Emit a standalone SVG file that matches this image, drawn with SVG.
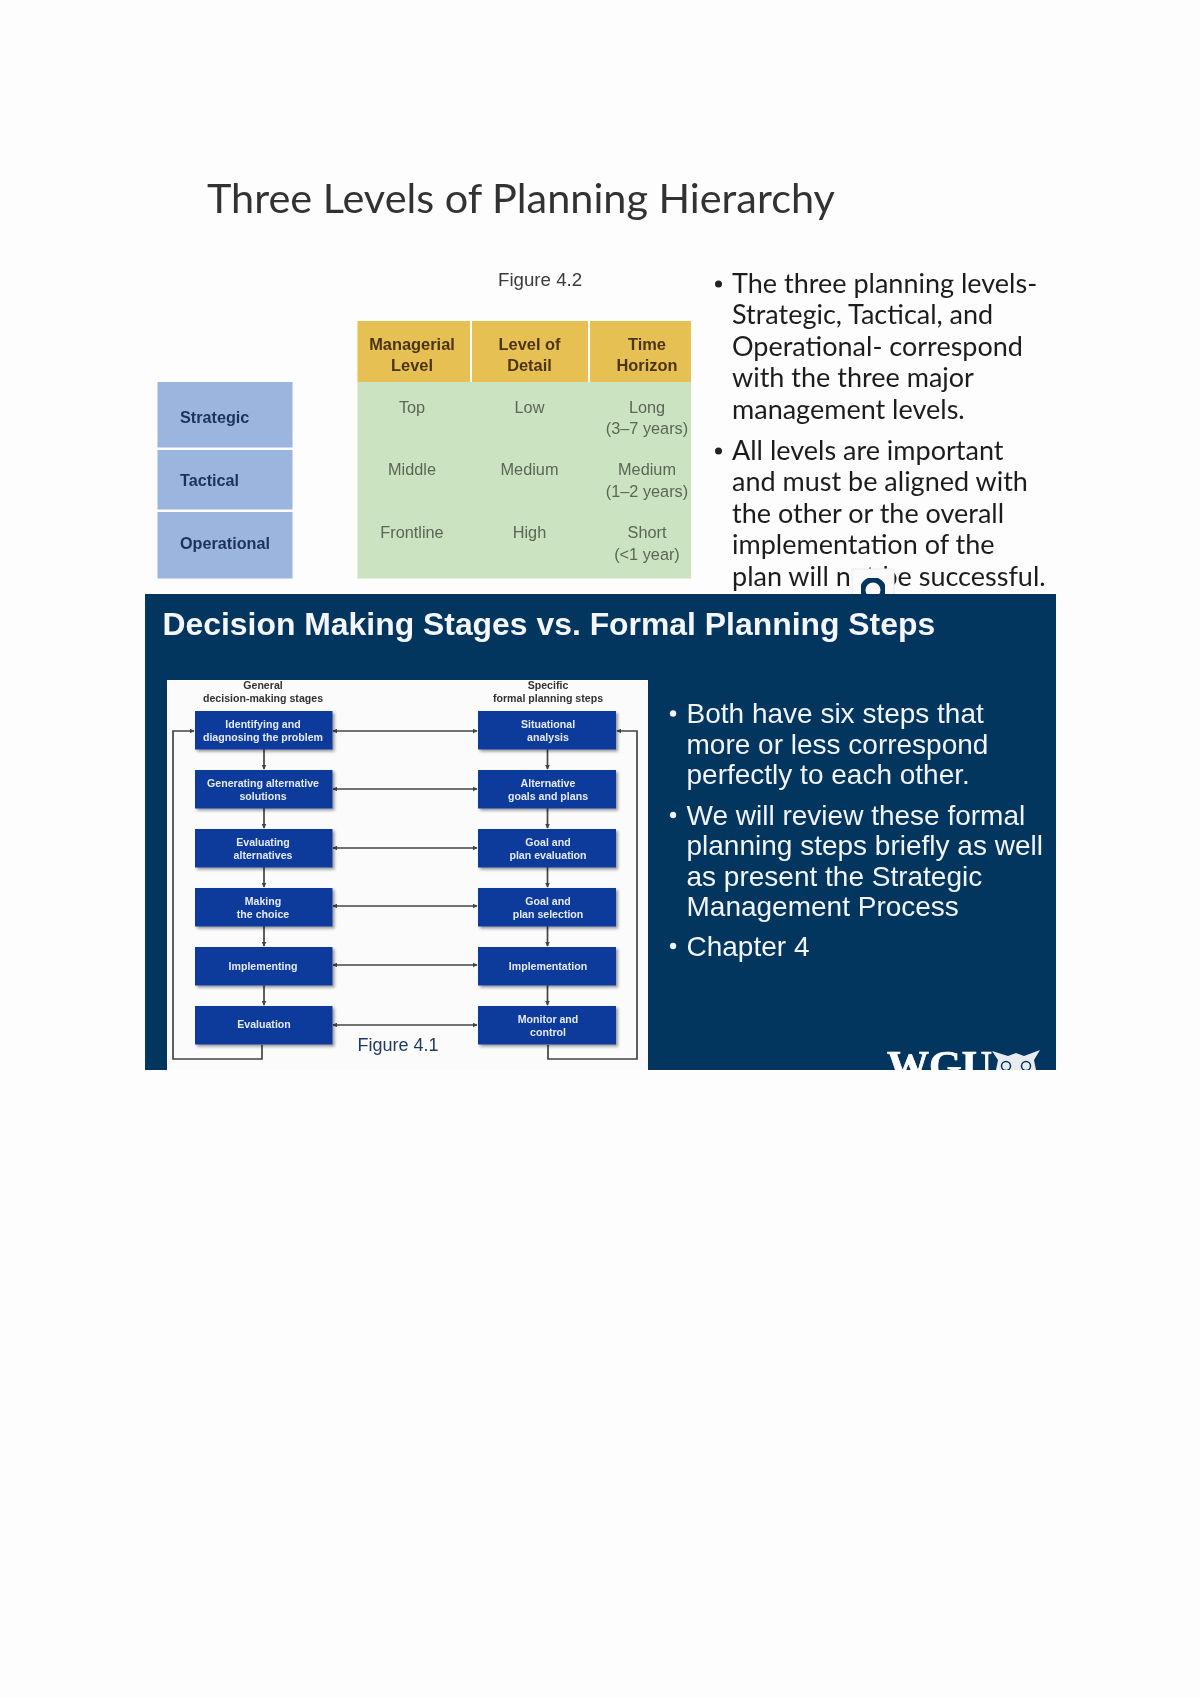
<svg xmlns="http://www.w3.org/2000/svg" width="1200" height="1698" viewBox="0 0 1200 1698">
<defs>
<filter id="soft" x="-5%" y="-5%" width="110%" height="110%"><feGaussianBlur stdDeviation="0.45"/></filter>
<filter id="soft2" x="-5%" y="-5%" width="110%" height="110%"><feGaussianBlur stdDeviation="0.6"/></filter>
<filter id="shadow" x="-10%" y="-10%" width="125%" height="130%"><feDropShadow dx="2" dy="2" stdDeviation="1.5" flood-color="#000" flood-opacity="0.4"/></filter>
<marker id="ah" viewBox="0 0 8 8" refX="7" refY="4" markerWidth="5" markerHeight="5" orient="auto-start-reverse" markerUnits="userSpaceOnUse"><path d="M0 0L8 4L0 8Z" fill="#444"/></marker>
<clipPath id="panelClip"><rect x="145" y="594" width="911" height="476"/></clipPath>
</defs>
<style>
.lato{font-family:"Lato","Liberation Sans",sans-serif}
.ar{font-family:"Liberation Sans",Arial,sans-serif}
.h{font-size:16.4px;font-weight:700;fill:#4b3415;text-anchor:middle}
.c{font-size:16.3px;fill:#5c6656;text-anchor:middle}
.l{font-size:16.2px;font-weight:700;fill:#1e3358}
.lv{fill:#9bb5de}
.b1{font-size:27px;fill:#1e1e1e}
.b2{font-size:28px;fill:#f2f5f8}
.bx{fill:#113a9b;filter:url(#shadow)}
.t{font-size:10.6px;font-weight:700;fill:#e6eaf5;text-anchor:middle}
.hd{font-size:10.6px;font-weight:700;fill:#333;text-anchor:middle}
.cn{fill:none;stroke:#444;stroke-width:1.7}
</style>
<rect width="1200" height="1698" fill="#fdfdfd"/>
<g filter="url(#soft)">
<text id="title" class="lato" x="207" y="213" font-size="41.400" fill="#333">Three Levels of Planning Hierarchy</text>
<text class="ar" x="498" y="286" font-size="18.700" fill="#3a3a3a">Figure 4.2</text>
<g id="levels">
<g id="lv-strategic"><rect class="lv" x="157.500" y="382" width="135" height="65.500"/><text class="ar l" x="180" y="423">Strategic</text></g>
<g id="lv-tactical"><rect class="lv" x="157.500" y="450" width="135" height="59.500"/><text class="ar l" x="180" y="486">Tactical</text></g>
<g id="lv-operational"><rect class="lv" x="157.500" y="512" width="135" height="66.500"/><text class="ar l" x="180" y="549">Operational</text></g>
</g>
<g id="table">
<rect x="357.500" y="382" width="333.500" height="196.500" fill="#cce3c1"/>
<rect x="357.500" y="321" width="112.500" height="61" fill="#e6c052"/>
<rect x="472" y="321" width="116" height="61" fill="#e6c052"/>
<rect x="590" y="321" width="101" height="61" fill="#e6c052"/>
<g class="ar">
<text class="h" x="412" y="350">Managerial</text><text class="h" x="412" y="371">Level</text>
<text class="h" x="529.500" y="350">Level of</text><text class="h" x="529.500" y="371">Detail</text>
<text class="h" x="647" y="350">Time</text><text class="h" x="647" y="371">Horizon</text>
<text class="c" x="412" y="413">Top</text><text class="c" x="529.500" y="413">Low</text><text class="c" x="647" y="413">Long</text><text class="c" x="647" y="434">(3–7 years)</text>
<text class="c" x="412" y="475">Middle</text><text class="c" x="529.500" y="475">Medium</text><text class="c" x="647" y="475">Medium</text><text class="c" x="647" y="497">(1–2 years)</text>
<text class="c" x="412" y="538">Frontline</text><text class="c" x="529.500" y="538">High</text><text class="c" x="647" y="538">Short</text><text class="c" x="647" y="560">(&lt;1 year)</text>
</g>
</g>
<g id="notes" class="lato b1">
<circle cx="718.500" cy="284" r="3.500" fill="#222"/>
<text x="732" y="293">The three planning levels-</text>
<text x="732" y="324">Strategic, Tactical, and</text>
<text x="732" y="355.500">Operational- correspond</text>
<text x="732" y="387">with the three major</text>
<text x="732" y="418.500">management levels.</text>
<circle cx="718.500" cy="451" r="3.500" fill="#222"/>
<text x="732" y="460">All levels are important</text>
<text x="732" y="491">and must be aligned with</text>
<text x="732" y="522.500">the other or the overall</text>
<text x="732" y="554">implementation of the</text>
<text x="732" y="585.500">plan will not be successful.</text>
</g>
</g>
<g id="chip"><rect x="852" y="569" width="42" height="26" fill="#fafafa" stroke="#ececec" stroke-width="1"/></g>
<g filter="url(#soft)">
<circle cx="873" cy="590" r="10.300" fill="none" stroke="#03365f" stroke-width="5.500"/>
</g>
<rect id="panel" x="145" y="594" width="911" height="476" fill="#03365f"/>
<g filter="url(#soft)">
<text class="ar" x="162.500" y="635" font-size="31.900" font-weight="700" fill="#f4f6f9">Decision Making Stages vs. Formal Planning Steps</text>
<g id="slide-notes" class="ar b2">
<circle cx="673" cy="713.500" r="3.200" fill="#f2f5f8"/>
<text x="686.500" y="723">Both have six steps that</text>
<text x="686.500" y="753.500">more or less correspond</text>
<text x="686.500" y="784">perfectly to each other.</text>
<circle cx="673" cy="815" r="3.200" fill="#f2f5f8"/>
<text x="686.500" y="825">We will review these formal</text>
<text x="686.500" y="855">planning steps briefly as well</text>
<text x="686.500" y="886">as present the Strategic</text>
<text x="686.500" y="916">Management Process</text>
<circle cx="673" cy="946" r="3.200" fill="#f2f5f8"/>
<text x="686.500" y="956">Chapter 4</text>
</g>
<g id="logo" clip-path="url(#panelClip)">
<text x="887" y="1080" font-family="Liberation Serif,serif" font-weight="700" font-size="42" fill="#fff" stroke="#fff" stroke-width="0.700">WGU</text>
<path d="M992 1051L1008 1056L1016 1053L1024 1056L1040 1050L1034 1060L1036 1070L996 1070L998 1060Z" fill="#e8ecf1"/>
<circle cx="1006" cy="1066" r="4.500" fill="none" stroke="#03365f" stroke-width="1.500"/>
<circle cx="1026" cy="1066" r="4.500" fill="none" stroke="#03365f" stroke-width="1.500"/>
</g>
</g>
<rect id="figure" x="167" y="680" width="481" height="390" fill="#fbfbfb"/>
<g filter="url(#soft2)">
<g id="connectors">
<path class="cn" d="M264 749V769" marker-end="url(#ah)"/>
<path class="cn" d="M264 808V828" marker-end="url(#ah)"/>
<path class="cn" d="M264 867V887" marker-end="url(#ah)"/>
<path class="cn" d="M264 926V946" marker-end="url(#ah)"/>
<path class="cn" d="M264 985V1005" marker-end="url(#ah)"/>
<path class="cn" d="M547.500 749V769" marker-end="url(#ah)"/>
<path class="cn" d="M547.500 808V828" marker-end="url(#ah)"/>
<path class="cn" d="M547.500 867V887" marker-end="url(#ah)"/>
<path class="cn" d="M547.500 926V946" marker-end="url(#ah)"/>
<path class="cn" d="M547.500 985V1005" marker-end="url(#ah)"/>
<path class="cn" d="M333 731H477" marker-start="url(#ah)" marker-end="url(#ah)"/>
<path class="cn" d="M333 789H477" marker-start="url(#ah)" marker-end="url(#ah)"/>
<path class="cn" d="M333 848H477" marker-start="url(#ah)" marker-end="url(#ah)"/>
<path class="cn" d="M333 906H477" marker-start="url(#ah)" marker-end="url(#ah)"/>
<path class="cn" d="M333 965H477" marker-start="url(#ah)" marker-end="url(#ah)"/>
<path class="cn" d="M333 1025H477" marker-start="url(#ah)" marker-end="url(#ah)"/>
<path class="cn" d="M262 1045V1059H173V731H194" marker-end="url(#ah)"/>
<path class="cn" d="M548 1045V1059H637V731H617" marker-end="url(#ah)"/>
</g>
<text class="ar hd" x="263" y="689">General</text>
<text class="ar hd" x="263" y="702">decision-making stages</text>
<text class="ar hd" x="548" y="689">Specific</text>
<text class="ar hd" x="548" y="702">formal planning steps</text>
<g class="ar">
<g id="s1"><rect class="bx" x="195" y="711" width="137.500" height="38.500"/><text class="t" x="263" y="728">Identifying and</text><text class="t" x="263" y="741">diagnosing the problem</text></g>
<g id="s2"><rect class="bx" x="195" y="770" width="137.500" height="38.500"/><text class="t" x="263" y="787">Generating alternative</text><text class="t" x="263" y="800">solutions</text></g>
<g id="s3"><rect class="bx" x="195" y="829" width="137.500" height="38.500"/><text class="t" x="263" y="846">Evaluating</text><text class="t" x="263" y="859">alternatives</text></g>
<g id="s4"><rect class="bx" x="195" y="888" width="137.500" height="38.500"/><text class="t" x="263" y="905">Making</text><text class="t" x="263" y="918">the choice</text></g>
<g id="s5"><rect class="bx" x="195" y="947" width="137.500" height="38.500"/><text class="t" x="263" y="970">Implementing</text></g>
<g id="s6"><rect class="bx" x="195" y="1006" width="137.500" height="38.500"/><text class="t" x="264" y="1028">Evaluation</text></g>
<g id="p1"><rect class="bx" x="478" y="711" width="138" height="38.500"/><text class="t" x="548" y="728">Situational</text><text class="t" x="548" y="741">analysis</text></g>
<g id="p2"><rect class="bx" x="478" y="770" width="138" height="38.500"/><text class="t" x="548" y="787">Alternative</text><text class="t" x="548" y="800">goals and plans</text></g>
<g id="p3"><rect class="bx" x="478" y="829" width="138" height="38.500"/><text class="t" x="548" y="846">Goal and</text><text class="t" x="548" y="859">plan evaluation</text></g>
<g id="p4"><rect class="bx" x="478" y="888" width="138" height="38.500"/><text class="t" x="548" y="905">Goal and</text><text class="t" x="548" y="918">plan selection</text></g>
<g id="p5"><rect class="bx" x="478" y="947" width="138" height="38.500"/><text class="t" x="548" y="970">Implementation</text></g>
<g id="p6"><rect class="bx" x="478" y="1006" width="138" height="38.500"/><text class="t" x="548" y="1023">Monitor and</text><text class="t" x="548" y="1036">control</text></g>
</g>
<text class="ar" x="357.500" y="1051" font-size="18" fill="#1f3a5f">Figure 4.1</text>
</g>
</svg>
